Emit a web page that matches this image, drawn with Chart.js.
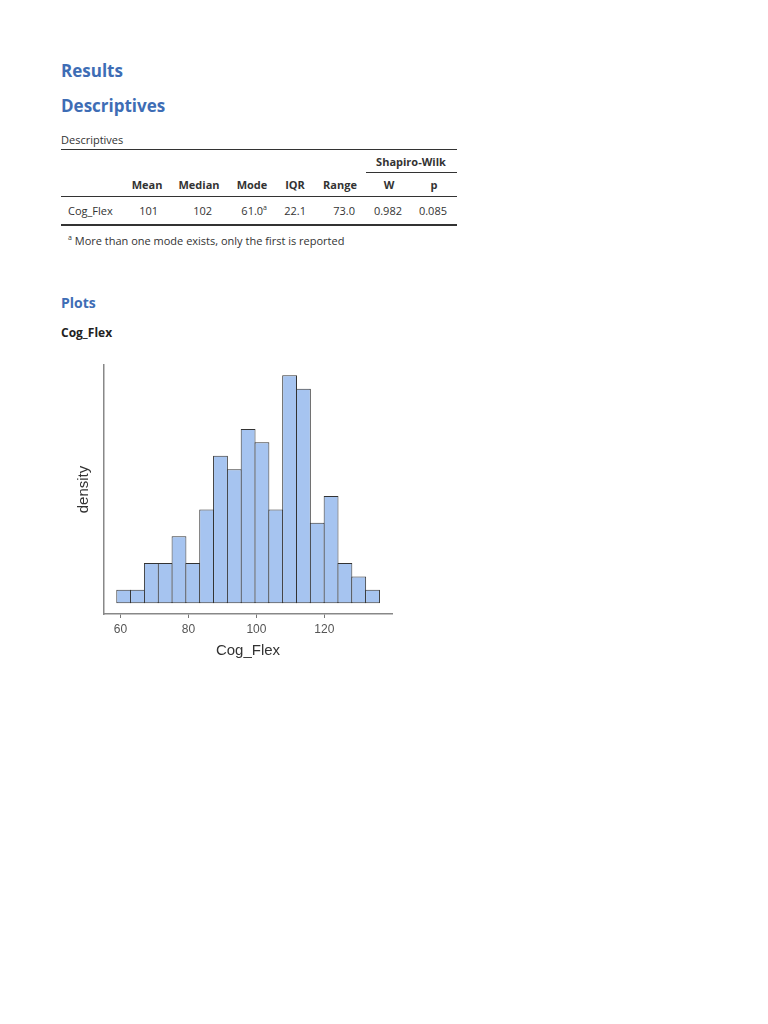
<!DOCTYPE html>
<html>
<head>
<meta charset="utf-8">
<script src="https://cdn.jsdelivr.net/npm/chart.js@4.4.0/dist/chart.umd.min.js"></script>
<style>
  html, body { margin: 0; padding: 0; background: #ffffff; }
  body { width: 768px; height: 1024px; position: relative; font-family: "Open Sans", "Noto Sans", sans-serif; color: #333; }
  .t { position: absolute; line-height: 1; white-space: nowrap; transform: translateY(-50%); }
  .h { color: #3e6db5; font-weight: bold; }
  .c { transform: translate(-50%, -50%); }
  .r { transform: translate(-100%, -50%); }
  .line { position: absolute; background: #333; }
  .tb { font-size: 11px; color: #333; }
  .th { font-size: 11px; font-weight: bold; color: #333; }
  #chartBox { position: absolute; left: 60px; top: 355px; }
</style>
</head>
<body>
<div class="t h" style="left:61px; top:70px; font-size:17px;">Results</div>
<div class="t h" style="left:61px; top:105px; font-size:17px;">Descriptives</div>
<div class="t tb" style="left:61px; top:139px;">Descriptives</div>

<div class="line" style="left:61px; top:149px; width:396px; height:1px;"></div>
<div class="t th c" style="left:411px; top:161px;">Shapiro-Wilk</div>
<div class="line" style="left:366px; top:172px; width:91px; height:1px;"></div>

<div class="t th c" style="left:147px; top:184px;">Mean</div>
<div class="t th c" style="left:199px; top:184px;">Median</div>
<div class="t th c" style="left:252px; top:184px;">Mode</div>
<div class="t th c" style="left:295px; top:184px;">IQR</div>
<div class="t th c" style="left:340px; top:184px;">Range</div>
<div class="t th c" style="left:389px; top:184px;">W</div>
<div class="t th c" style="left:434px; top:184px;">p</div>
<div class="line" style="left:61px; top:196px; width:396px; height:1px;"></div>

<div class="t tb" style="left:68px; top:210px;">Cog_Flex</div>
<div class="t tb r" style="left:158px; top:210px;">101</div>
<div class="t tb r" style="left:212px; top:210px;">102</div>
<div class="t tb r" style="left:267px; top:210px;">61.0<sup style="font-size:7px;">a</sup></div>
<div class="t tb r" style="left:306px; top:210px;">22.1</div>
<div class="t tb r" style="left:355px; top:210px;">73.0</div>
<div class="t tb r" style="left:402px; top:210px;">0.982</div>
<div class="t tb r" style="left:447px; top:210px;">0.085</div>
<div class="line" style="left:61px; top:224px; width:396px; height:2px;"></div>

<div class="t tb" style="left:68px; top:240px;"><sup style="font-size:7px;">a</sup> More than one mode exists, only the first is reported</div>

<div class="t h" style="left:61px; top:303px; font-size:14px;">Plots</div>
<div class="t" style="left:61px; top:333px; font-size:12px; font-weight:bold; color:#222;">Cog_Flex</div>

<div id="chartBox"><canvas id="c" width="340" height="305"></canvas></div>

<script>
// Histogram of Cog_Flex (bin centres and counts)
const binCenters = [60.935, 65.005, 69.075, 73.145, 77.215, 81.285, 85.355, 89.425, 93.495, 97.565,
                    101.635, 105.705, 109.775, 113.845, 117.915, 121.985, 126.055, 130.125, 134.195];
const counts = [1, 1, 3, 3, 5, 3, 7, 11, 10, 13, 12, 7, 17, 16, 6, 8, 3, 2, 1];
const xTickValues = [60, 80, 100, 120];
const xTitle = "Cog_Flex";
const yTitle = "density";

const points = binCenters.map((x, i) => ({ x: x, y: counts[i] }));

new Chart(document.getElementById('c'), {
  type: 'bar',
  data: {
    datasets: [{
      data: points,
      backgroundColor: '#a6c4f0',
      borderColor: '#333333',
      borderWidth: 1,
      borderSkipped: false,
      barPercentage: 1.072,
      categoryPercentage: 1.0
    }]
  },
  options: {
    responsive: false,
    animation: false,
    devicePixelRatio: 1,
    layout: { padding: { top: 10, right: 8, bottom: 0, left: 0 } },
    plugins: { legend: { display: false }, tooltip: { enabled: false } },
    scales: {
      x: {
        type: 'linear',
        min: 55.14,
        max: 139.92,
        offset: false,
        afterBuildTicks: (s) => { s.ticks = xTickValues.map(v => ({ value: v })); },
        afterFit: (s) => { s.height = 46; },
        grid: { display: true, offset: false, drawOnChartArea: false, drawTicks: true, tickLength: 4, color: '#777' },
        border: { display: true, color: '#888', width: 1.5 },
        ticks: { padding: 4, color: '#555', font: { family: 'Liberation Sans', size: 12 } },
        title: { display: true, text: xTitle, color: '#333', font: { family: 'Liberation Sans', size: 15 }, padding: { top: 0, bottom: 0 } }
      },
      y: {
        min: -0.8,
        max: 17.77,
        afterFit: (s) => { s.width = 44; },
        grid: { display: false },
        border: { display: true, color: '#888', width: 1.5 },
        ticks: { display: false },
        title: { display: true, text: yTitle, color: '#333', font: { family: 'Liberation Sans', size: 15 }, padding: { top: 15, bottom: 0 } }
      }
    }
  }
});
</script>
</body>
</html>
